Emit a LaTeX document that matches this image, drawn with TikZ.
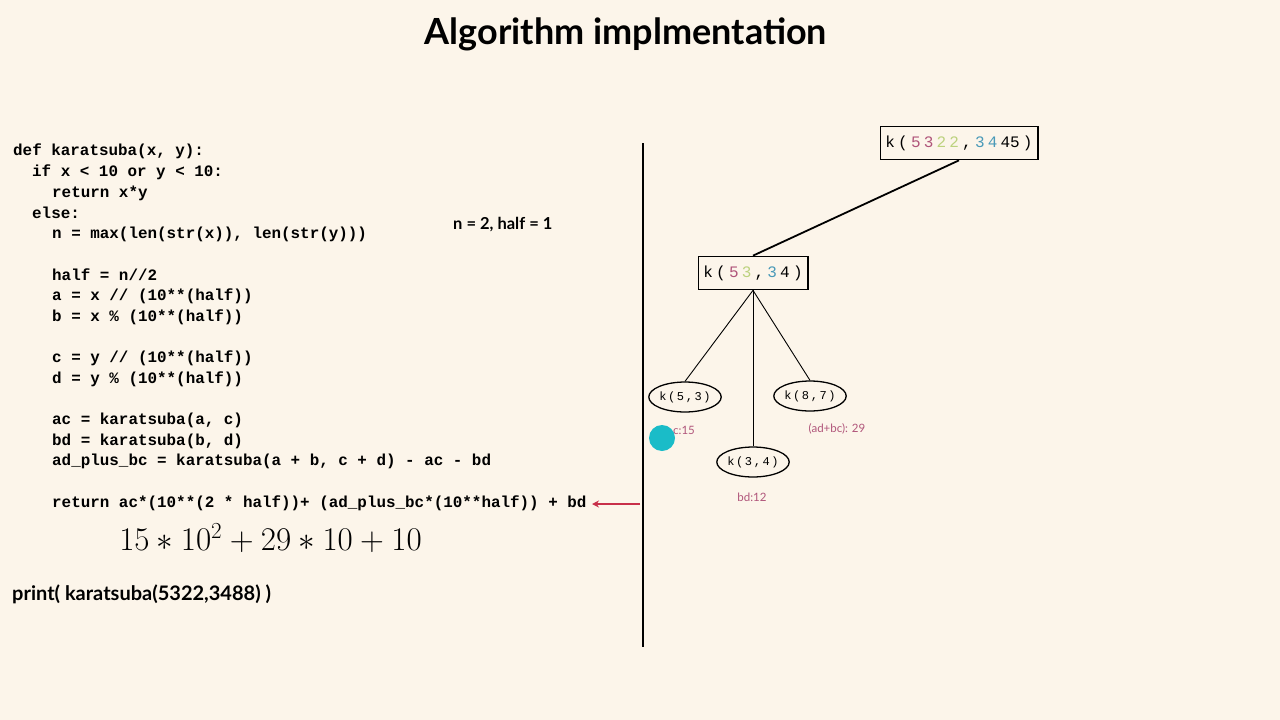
\documentclass[tikz,border=0pt]{standalone}
\usepackage{fontspec}
\setmainfont{Lato}
\setmonofont{Liberation Mono}
\usetikzlibrary{shapes.geometric,arrows.meta}
\definecolor{bg}{HTML}{FCF5EA}
\definecolor{pk}{HTML}{B0557A}
\definecolor{gr}{HTML}{BCD27E}
\definecolor{bl}{HTML}{4A9AB8}
\definecolor{lbl}{HTML}{B0557A}
\definecolor{arr}{HTML}{C8304A}
\definecolor{dot}{HTML}{1ABCC8}
\newcommand\gp{\kern3.2pt}
\newcommand\gq{\kern1.6pt}
\tikzset{code/.style={anchor=west,inner sep=0,font=\ttfamily\bfseries\fontsize{15.9}{16}\selectfont},
 box/.style={draw,line width=1.8pt,inner xsep=5pt,inner ysep=9pt,font=\ttfamily\fontsize{16}{18}\selectfont},
 ell/.style={draw,ellipse,line width=1.3pt,inner xsep=0pt,inner ysep=5pt,font=\ttfamily\fontsize{12}{14}\selectfont},
 lab/.style={text=lbl,font=\fontsize{11.5}{13}\selectfont,inner sep=0}}
\begin{document}
\begin{tikzpicture}[x=1pt,y=-1pt]
\fill[bg] (0,0) rectangle (1280,720);
\useasboundingbox (0,0) rectangle (1280,720);
\node[font=\bfseries\fontsize{36}{40}\selectfont] (title) at (626,34) {Algorithm implmentation};
\foreach \t/\x/\y [count=\i] in {
 {def karatsuba(x, y):}/13/151,
 {if x < 10 or y < 10:}/32/172,
 {return x*y}/52/193,
 {else:}/32/213,
 {n = max(len(str(x)), len(str(y)))}/52/234,
 {half = n//2}/52/275,
 {a = x // (10**(half))}/52/296,
 {b = x \% (10**(half))}/52/317,
 {c = y // (10**(half))}/52/358,
 {d = y \% (10**(half))}/52/379,
 {ac = karatsuba(a, c)}/52/420,
 {bd = karatsuba(b, d)}/52/441,
 {ad\_plus\_bc = karatsuba(a + b, c + d) - ac - bd}/52/461,
 {return ac*(10**(2 * half))+ (ad\_plus\_bc*(10**half)) + bd}/52/503}
 \node[code] (c\i) at (\x,\y) {\t};
\node[anchor=west,inner sep=0,font=\bfseries\fontsize{16.5}{18}\selectfont] (nh) at (453,225) {n = 2, half = 1};
\node[anchor=west,inner sep=0,scale=1.33,font=\fontsize{24}{30}\selectfont] (math) at (119,538) {$15*10^2+29*10+10$};
\node[anchor=west,inner sep=0,font=\bfseries\fontsize{20}{22}\selectfont] (pr) at (12,594) {print( karatsuba(5322,3488) )};
\coordinate (vt) at (643,143); \coordinate (vb) at (643,647);
\draw[line width=2.2pt] (vt) -- (vb);
\coordinate (as) at (640,504); \coordinate (ae) at (592,504);
\draw[arr,line width=1.6pt,-{Stealth[length=7pt,width=7pt]}] (as) -- (ae);
\node[box] (top) at (959,143) {k\gp(\gp\textcolor{pk}{5}\gp\textcolor{pk}{3}\gp\textcolor{gr}{2}\gp\textcolor{gr}{2}\gp,\gp\textcolor{bl}{3}\gp\textcolor{bl}{4}\gp45\gp)};
\node[box] (mid) at (753,273) {k\gp(\gp\textcolor{pk}{5}\gp\textcolor{gr}{3}\gp,\gp\textcolor{bl}{3}\gp4\gp)};
\node[ell] (e1) at (685,397) {k\gq(\gq5\gq,\gq3\gq)};
\node[ell] (e2) at (753,462) {k\gq(\gq3\gq,\gq4\gq)};
\node[ell] (e3) at (810,396) {k\gq(\gq8\gq,\gq7\gq)};
\draw[line width=1.8pt] (top.south) -- (mid.north);
\draw[line width=0.9pt] (mid.south) -- (e1.north);
\draw[line width=0.9pt] (mid.south) -- (e2.north);
\draw[line width=0.9pt] (mid.south) -- (e3.north);
\node[lab] (l1) at (684,430) {c:15};
\node[lab] (l2) at (752,497) {bd:12};
\node[lab] (l3) at (837,429) {(ad+bc): 29};
\fill[dot] (662,438) circle (13);
\end{tikzpicture}
\end{document}
